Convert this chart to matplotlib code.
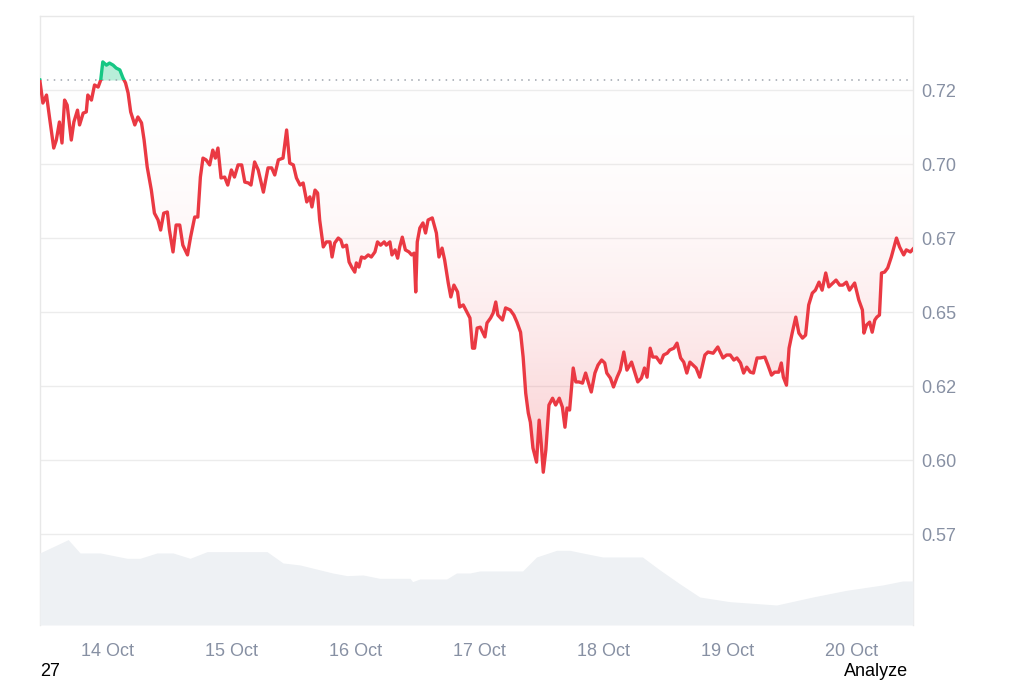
import numpy as np
import pandas as pd
import matplotlib
matplotlib.use('Agg')
import matplotlib.pyplot as plt
import matplotlib.dates as mdates
from matplotlib.patches import Rectangle

# price readings: hours after 14 Oct 00:00, price in USD
price_hours = [
    -13.2, -12.6, -11.9, -11.3, -10.5, -10.0, -9.4, -8.9, -8.4, -7.9, -7.1, -6.6, -5.9, -5.5,
    -4.8, -4.2, -3.9, -3.2, -2.6, -1.9, -1.4, -1.0, -0.3, 0.3, 1.0, 1.6, 2.3, 2.9, 3.4, 3.9,
    4.4, 5.2, 5.8, 6.5, 7.0, 7.6, 8.4, 9.0, 9.7, 10.2, 10.8, 11.5, 11.9, 12.6, 13.2, 13.9,
    14.5, 15.4, 16.0, 16.8, 17.4, 17.9, 18.4, 19.0, 19.7, 20.3, 20.8, 21.3, 21.9, 22.6, 23.2,
    23.9, 24.5, 25.2, 25.9, 26.5, 27.2, 27.7, 28.4, 29.1, 30.1, 31.0, 31.7, 32.3, 33.0, 33.9,
    34.6, 35.2, 35.9, 36.5, 37.2, 37.8, 38.5, 39.1, 39.5, 40.1, 40.6, 41.0, 41.7, 42.3, 43.0,
    43.4, 43.9, 44.6, 45.1, 45.5, 46.2, 46.7, 47.2, 47.8, 48.1, 48.6, 49.1, 49.7, 50.4, 51.0,
    51.7, 52.2, 52.8, 53.5, 53.9, 54.6, 55.0, 55.6, 56.1, 56.5, 57.0, 57.6, 58.3, 58.8, 59.3,
    59.6, 59.9, 60.4, 61.0, 61.5, 62.0, 62.8, 63.6, 64.1, 64.7, 65.2, 65.9, 66.4, 67.0, 67.7,
    68.1, 68.8, 70.1, 70.6, 71.0, 71.5, 72.1, 73.0, 73.4, 74.1, 74.6, 75.1, 75.5, 76.4, 77.0,
    77.9, 78.6, 79.2, 79.9, 80.4, 80.9, 81.4, 81.8, 82.3, 83.0, 83.5, 83.9, 84.3, 84.8, 85.4,
    86.1, 86.7, 87.4, 88.0, 88.5, 88.9, 89.4, 90.1, 90.6, 91.2, 91.9, 92.5, 93.0, 93.6, 94.3,
    94.9, 95.6, 96.2, 96.6, 97.3, 97.9, 98.6, 99.2, 99.9, 100.5, 101.4, 102.0, 102.6, 103.3,
    103.9, 104.4, 105.0, 105.5, 106.2, 107.0, 107.6, 108.3, 108.8, 109.6, 110.2, 110.9, 111.5,
    112.1, 112.7, 113.3, 113.9, 114.6, 115.6, 116.2, 117.2, 118.1, 119.1, 119.8, 120.5, 121.2,
    121.8, 122.5, 123.1, 123.7, 124.4, 125.0, 125.7, 126.3, 127.2, 127.8, 128.5, 129.1, 129.9,
    130.4, 130.8, 131.4, 131.9, 132.5, 133.2, 133.8, 134.5, 135.1, 135.7, 136.4, 137.0, 137.7,
    138.3, 139.0, 139.6, 140.4, 141.0, 141.7, 142.3, 143.0, 143.6, 144.6, 145.4, 146.1, 146.4,
    146.9, 147.5, 148.0, 148.5, 148.9, 149.4, 149.8, 150.4, 151.0, 151.7, 152.7, 153.3, 154.1,
    154.6, 155.4, 155.9,
]
prices = [
    0.7284, 0.7206, 0.7233, 0.7155, 0.7054, 0.7081, 0.7142, 0.7071, 0.7216, 0.7199, 0.7081, 0.7142, 0.7182, 0.7132,
    0.7172, 0.7176, 0.7233, 0.7216, 0.7267, 0.7260, 0.7284, 0.7345, 0.7334, 0.7341, 0.7334, 0.7324, 0.7318, 0.7291, 0.7274, 0.7240,
    0.7176, 0.7132, 0.7159, 0.7139, 0.7081, 0.6990, 0.6912, 0.6834, 0.6811, 0.6777, 0.6834, 0.6838, 0.6777, 0.6703, 0.6794, 0.6794,
    0.6726, 0.6693, 0.6753, 0.6821, 0.6821, 0.6956, 0.7020, 0.7014, 0.6997, 0.7047, 0.7020, 0.7054, 0.6953, 0.6956, 0.6929,
    0.6980, 0.6956, 0.6997, 0.6997, 0.6939, 0.6936, 0.6929, 0.7007, 0.6980, 0.6905, 0.6987, 0.6987, 0.6963, 0.7014, 0.7020,
    0.7115, 0.7003, 0.6997, 0.6953, 0.6929, 0.6936, 0.6872, 0.6889, 0.6855, 0.6912, 0.6902, 0.6811, 0.6720, 0.6737, 0.6737,
    0.6686, 0.6733, 0.6750, 0.6743, 0.6720, 0.6726, 0.6669, 0.6652, 0.6635, 0.6666, 0.6652, 0.6686, 0.6682, 0.6693, 0.6686,
    0.6703, 0.6737, 0.6726, 0.6737, 0.6726, 0.6737, 0.6693, 0.6710, 0.6682, 0.6720, 0.6753, 0.6710, 0.6703, 0.6693, 0.6699,
    0.6568, 0.6737, 0.6784, 0.6801, 0.6767, 0.6811, 0.6818, 0.6767, 0.6686, 0.6716, 0.6676, 0.6598, 0.6551, 0.6591, 0.6568,
    0.6517, 0.6524, 0.6480, 0.6378, 0.6378, 0.6446, 0.6449, 0.6416, 0.6463, 0.6480, 0.6497, 0.6534, 0.6490, 0.6473, 0.6514,
    0.6507, 0.6490, 0.6466, 0.6432, 0.6348, 0.6226, 0.6159, 0.6128, 0.6041, 0.5993, 0.6135, 0.6057, 0.5959, 0.6034, 0.6186,
    0.6209, 0.6186, 0.6209, 0.6179, 0.6111, 0.6176, 0.6169, 0.6311, 0.6264, 0.6264, 0.6260, 0.6294, 0.6264, 0.6230, 0.6294,
    0.6321, 0.6338, 0.6328, 0.6294, 0.6277, 0.6247, 0.6280, 0.6304, 0.6365, 0.6304, 0.6331, 0.6297, 0.6264, 0.6277,
    0.6311, 0.6280, 0.6378, 0.6348, 0.6348, 0.6328, 0.6355, 0.6361, 0.6372, 0.6378, 0.6395, 0.6345, 0.6331,
    0.6294, 0.6331, 0.6321, 0.6311, 0.6280, 0.6355, 0.6365, 0.6361, 0.6382, 0.6345, 0.6355, 0.6355, 0.6338,
    0.6345, 0.6328, 0.6294, 0.6314, 0.6297, 0.6294, 0.6345, 0.6345, 0.6348, 0.6321, 0.6287, 0.6297, 0.6297,
    0.6328, 0.6280, 0.6253, 0.6378, 0.6429, 0.6483, 0.6429, 0.6412, 0.6422, 0.6524, 0.6564, 0.6574, 0.6601,
    0.6574, 0.6632, 0.6585, 0.6598, 0.6608, 0.6591, 0.6591, 0.6601, 0.6574, 0.6598, 0.6541, 0.6507, 0.6429,
    0.6456, 0.6466, 0.6432, 0.6473, 0.6483, 0.6490, 0.6632, 0.6635, 0.6649, 0.6686, 0.6750, 0.6720, 0.6693,
    0.6710, 0.6703, 0.6713,
]

# volume readings (rolling, millions)
volume_hours = [-13.2, -7.7, -5.4, -1.5, 3.7, 6.2, 9.5, 12.6, 15.9, 19.2, 30.8, 33.9, 37.2, 43.5,
                46.3, 49.4, 52.6, 58.5, 59.0, 60.4, 65.6, 67.5, 70.1, 72.0, 80.3, 83.0, 86.9, 89.4,
                91.9, 95.8, 103.5, 106.8, 110.7, 114.6, 120.4, 129.5, 136.5, 143.0, 150.0, 153.9, 155.9]
volumes = [108, 128, 108, 108, 100, 100, 108, 108, 100, 110, 110, 93, 90, 78,
           74, 75, 70, 70, 65, 69, 69, 78, 78, 81, 81, 102, 112, 112,
           108, 102, 102, 83, 62, 42, 35, 30, 42, 52, 60, 66, 66]

open_price = 0.7284
ytick_values = [0.575, 0.600, 0.625, 0.650, 0.675, 0.700, 0.725]
ytick_labels = ['0.57', '0.60', '0.62', '0.65', '0.67', '0.70', '0.72']
day_labels = ['14 Oct', '15 Oct', '16 Oct', '17 Oct', '18 Oct', '19 Oct', '20 Oct']

RED = '#ea3943'
GREEN = '#16c784'
TEXT = '#8790a3'

plt.rcParams['font.family'] = ['Liberation Sans', 'DejaVu Sans']

day0 = pd.Timestamp('2024-10-14')
t = mdates.date2num(day0 + pd.to_timedelta(price_hours, unit='h'))
tv = mdates.date2num(day0 + pd.to_timedelta(volume_hours, unit='h'))
p = np.array(prices)

fig = plt.figure(figsize=(10.24, 6.83), dpi=100)
ax = fig.add_axes([40 / 1024, 1 - 625 / 683, 873 / 1024, 609 / 683])
x0 = mdates.date2num(day0 + pd.Timedelta(hours=-13.16))
x1 = mdates.date2num(day0 + pd.Timedelta(hours=155.9))
ax.set_xlim(x0, x1)
ax.set_ylim(0.5443, 0.75)

# volume area on its own scale
axv = ax.twinx()
axv.fill_between(tv, volumes, 0, color='#eef1f4', lw=0)
axv.set_ylim(0, 913)
axv.set_xlim(x0, x1)
axv.axis('off')

for v in ytick_values:
    ax.axhline(v, color='#ececec', lw=1, zorder=0)

# gradient fill below the opening price
red_fill = ax.fill_between(t, np.minimum(p, open_price), open_price, color='none', lw=0)
grad = np.linspace(0.0, 1.0, 256).reshape(-1, 1)
cmap = matplotlib.colors.LinearSegmentedColormap.from_list(
    'redfade', [(1, 1, 1, 0), matplotlib.colors.to_rgba(RED, 0.26)])
im = ax.imshow(grad, cmap=cmap, aspect='auto', origin='upper',
               extent=[x0, x1, min(prices), open_price], zorder=1)
im.set_clip_path(red_fill.get_paths()[0], transform=ax.transData)
ax.set_xlim(x0, x1)
ax.set_ylim(0.5443, 0.75)

ax.fill_between(t, np.maximum(p, open_price), open_price, color=GREEN, alpha=0.3, lw=0, zorder=1)

ax.axhline(open_price, color='#9ea4ad', lw=1.1, ls=(0, (1, 3.5)), zorder=2)

red_line, = ax.plot(t, p, color=RED, lw=2.4, zorder=3, solid_joinstyle='round')
green_line, = ax.plot(t, p, color=GREEN, lw=2.4, zorder=3, solid_joinstyle='round')
below = Rectangle((x0, 0.5), x1 - x0, open_price - 0.5, transform=ax.transData)
above = Rectangle((x0, open_price), x1 - x0, 0.3, transform=ax.transData)
red_line.set_clip_path(below)
green_line.set_clip_path(above)

ax.yaxis.tick_right()
ax.set_yticks(ytick_values)
ax.set_yticklabels(ytick_labels)
ax.set_xticks(mdates.date2num([day0 + pd.Timedelta(days=i) for i in range(len(day_labels))]))
ax.set_xticklabels(day_labels)
ax.tick_params(axis='y', length=0, pad=6, labelsize=13, labelcolor=TEXT)
ax.tick_params(axis='x', length=0, pad=13, labelsize=13, labelcolor=TEXT)

for side in ['top', 'left', 'right']:
    ax.spines[side].set_color('#e8e8e8')
    ax.spines[side].set_linewidth(1)
ax.spines['bottom'].set_visible(False)

fig.text(40 / 1024, 1 - 671 / 683, '27', fontsize=13, color='black', va='center', ha='left')
fig.text(908 / 1024, 1 - 671 / 683, 'Analyze', fontsize=13, color='black', va='center', ha='right')

fig.savefig('out.png', dpi=100, facecolor='white')
